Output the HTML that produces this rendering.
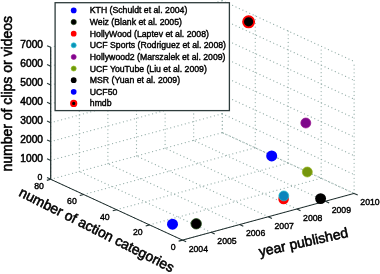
<!DOCTYPE html>
<html><head><meta charset="utf-8"><title>Action recognition datasets</title>
<style>
html,body{margin:0;padding:0;background:#fff;}
body{width:380px;height:274px;overflow:hidden;}
svg{display:block;font-family:"Liberation Sans",Arial,Helvetica,sans-serif;fill:#000;}
text{stroke:#000;stroke-width:0.4px;}
.g{stroke:#95aea9;stroke-width:1.25;stroke-dasharray:0.01 3.76;fill:none;stroke-linecap:round;}
.g2{stroke-dashoffset:-1.3;}
.az{stroke-width:1.25 !important;}
.ax{stroke:#1e2c2c;stroke-width:1.0;fill:none;stroke-linecap:butt;}
.tk{stroke:#233333;stroke-width:1.1;fill:none;}
.zt{font-size:10.2px;text-anchor:end;stroke-width:0.5px;}
.ct{font-size:8.7px;text-anchor:end;}
.yt{font-size:8.7px;text-anchor:start;}
.lb{font-size:14px;stroke-width:0.55px;}
.lg{font-size:8.7px;}
</style></head><body>
<svg width="380" height="274" viewBox="0 0 380 274">
<rect x="0" y="0" width="380" height="274" fill="#fff"/>
<g id="grid">
<line class="g" x1="182.5" y1="240.1" x2="50.7" y2="179.3"/>
<line class="g" x1="211.1" y1="232.32" x2="79.3" y2="171.52"/>
<line class="g" x1="239.7" y1="224.54" x2="107.9" y2="163.74"/>
<line class="g" x1="268.3" y1="216.76" x2="136.5" y2="155.96"/>
<line class="g" x1="296.9" y1="208.98" x2="165.1" y2="148.18"/>
<line class="g" x1="325.5" y1="201.2" x2="193.7" y2="140.4"/>
<line class="g" x1="182.5" y1="240.1" x2="354.1" y2="193.42"/>
<line class="g" x1="149.55" y1="224.9" x2="321.15" y2="178.22"/>
<line class="g" x1="116.6" y1="209.7" x2="288.2" y2="163.02"/>
<line class="g" x1="83.65" y1="194.5" x2="255.25" y2="147.82"/>
<line class="g" x1="50.7" y1="179.3" x2="222.3" y2="132.62"/>
<line class="g" x1="50.7" y1="179.3" x2="50.7" y2="47.35"/>
<line class="g" x1="79.3" y1="171.52" x2="79.3" y2="39.57"/>
<line class="g" x1="107.9" y1="163.74" x2="107.9" y2="31.79"/>
<line class="g" x1="136.5" y1="155.96" x2="136.5" y2="24.01"/>
<line class="g" x1="165.1" y1="148.18" x2="165.1" y2="16.23"/>
<line class="g" x1="193.7" y1="140.4" x2="193.7" y2="8.45"/>
<line class="g" x1="222.3" y1="132.62" x2="222.3" y2="0.67"/>
<line class="g" x1="50.7" y1="160.45" x2="222.3" y2="113.77"/>
<line class="g" x1="50.7" y1="141.6" x2="222.3" y2="94.92"/>
<line class="g" x1="50.7" y1="122.75" x2="222.3" y2="76.07"/>
<line class="g" x1="50.7" y1="103.9" x2="222.3" y2="57.22"/>
<line class="g" x1="50.7" y1="85.05" x2="222.3" y2="38.37"/>
<line class="g" x1="50.7" y1="66.2" x2="222.3" y2="19.52"/>
<line class="g" x1="50.7" y1="47.35" x2="222.3" y2="0.67"/>
<line class="g" x1="354.1" y1="193.42" x2="354.1" y2="61.47"/>
<line class="g" x1="321.15" y1="178.22" x2="321.15" y2="46.27"/>
<line class="g" x1="288.2" y1="163.02" x2="288.2" y2="31.07"/>
<line class="g" x1="255.25" y1="147.82" x2="255.25" y2="15.87"/>
<line class="g" x1="222.3" y1="132.62" x2="222.3" y2="0.67"/>
<line class="g" x1="222.3" y1="132.62" x2="354.1" y2="193.42"/>
<line class="g" x1="222.3" y1="113.77" x2="354.1" y2="174.57"/>
<line class="g" x1="222.3" y1="94.92" x2="354.1" y2="155.72"/>
<line class="g" x1="222.3" y1="76.07" x2="354.1" y2="136.87"/>
<line class="g" x1="222.3" y1="57.22" x2="354.1" y2="118.02"/>
<line class="g" x1="222.3" y1="38.37" x2="354.1" y2="99.17"/>
<line class="g" x1="222.3" y1="19.52" x2="354.1" y2="80.32"/>
<line class="g" x1="222.3" y1="0.67" x2="354.1" y2="61.47"/>
<line class="g g2" x1="222.3" y1="132.62" x2="354.1" y2="193.42"/>
</g>
<g id="axes">
<line class="ax az" x1="50.7" y1="179.3" x2="50.7" y2="47.35"/>
<line class="ax" x1="50.7" y1="179.3" x2="182.5" y2="240.1"/>
<line class="ax" x1="182.5" y1="240.1" x2="354.1" y2="193.42"/>
<line class="tk" x1="50.7" y1="179.3" x2="47.07" y2="177.62"/>
<text class="ct" x="42.4" y="180.1">0</text>
<line class="tk" x1="50.7" y1="160.45" x2="47.07" y2="158.77"/>
<text class="zt" x="43" y="161.55">1000</text>
<line class="tk" x1="50.7" y1="141.6" x2="47.07" y2="139.92"/>
<text class="zt" x="43" y="142.7">2000</text>
<line class="tk" x1="50.7" y1="122.75" x2="47.07" y2="121.07"/>
<text class="zt" x="43" y="123.85">3000</text>
<line class="tk" x1="50.7" y1="103.9" x2="47.07" y2="102.22"/>
<text class="zt" x="43" y="105">4000</text>
<line class="tk" x1="50.7" y1="85.05" x2="47.07" y2="83.37"/>
<text class="zt" x="43" y="86.15">5000</text>
<line class="tk" x1="50.7" y1="66.2" x2="47.07" y2="64.52"/>
<text class="zt" x="43" y="67.3">6000</text>
<line class="tk" x1="50.7" y1="47.35" x2="47.07" y2="45.67"/>
<text class="zt" x="43" y="48.45">7000</text>
<line class="tk" x1="182.5" y1="240.1" x2="178.64" y2="241.15"/>
<text class="ct" x="175.6" y="250">0</text>
<line class="tk" x1="149.55" y1="224.9" x2="145.69" y2="225.95"/>
<text class="ct" x="142.65" y="234.8">20</text>
<line class="tk" x1="116.6" y1="209.7" x2="112.74" y2="210.75"/>
<text class="ct" x="109.7" y="219.6">40</text>
<line class="tk" x1="83.65" y1="194.5" x2="79.79" y2="195.55"/>
<text class="ct" x="76.75" y="204.4">60</text>
<line class="tk" x1="50.7" y1="179.3" x2="46.84" y2="180.35"/>
<text class="ct" x="43.8" y="189.2">80</text>
<line class="tk" x1="182.5" y1="240.1" x2="186.13" y2="241.78"/>
<text class="yt" x="188.7" y="251.9">2004</text>
<line class="tk" x1="211.1" y1="232.32" x2="214.73" y2="234"/>
<text class="yt" x="217.3" y="244.12">2005</text>
<line class="tk" x1="239.7" y1="224.54" x2="243.33" y2="226.22"/>
<text class="yt" x="245.9" y="236.34">2006</text>
<line class="tk" x1="268.3" y1="216.76" x2="271.93" y2="218.44"/>
<text class="yt" x="274.5" y="228.56">2007</text>
<line class="tk" x1="296.9" y1="208.98" x2="300.53" y2="210.66"/>
<text class="yt" x="303.1" y="220.78">2008</text>
<line class="tk" x1="325.5" y1="201.2" x2="329.13" y2="202.88"/>
<text class="yt" x="331.7" y="213">2009</text>
<line class="tk" x1="354.1" y1="193.42" x2="357.73" y2="195.1"/>
<text class="yt" x="360.3" y="205.22">2010</text>
</g>
<text class="lb" transform="translate(12,171.6) rotate(-90)">number of clips or videos</text>
<text class="lb" style="font-size:13.9px" transform="translate(18,195.5) rotate(26.7)">number of action categories</text>
<text class="lb" transform="translate(260,256.6) rotate(-12.5)">year published</text>
<g id="points">
<circle cx="172.5" cy="224.2" r="5.5" fill="#0000ff"/>
<circle cx="196.2" cy="223.8" r="5.25" fill="#000000" stroke="#1c4a10" stroke-width="0.7"/>
<circle cx="283.6" cy="199" r="5.3" fill="#ff0000"/>
<circle cx="283.8" cy="195.9" r="4.95" fill="#0c84bc" stroke="#25bfc8" stroke-width="0.7"/>
<circle cx="305.8" cy="123" r="5" fill="#7e088a" stroke="#9a1490" stroke-width="0.7"/>
<circle cx="307.3" cy="172" r="5" fill="#76960c" stroke="#93b51e" stroke-width="0.7"/>
<circle cx="320.6" cy="198.6" r="5.45" fill="#000000"/>
<circle cx="271.7" cy="155.9" r="5.5" fill="#0000ff"/>
<circle cx="248.6" cy="21.8" r="5.55" fill="#000" stroke="#ff0000" stroke-width="1.85"/>
</g>
<g id="legend">
<rect x="55.1" y="2.7" width="174.3" height="107.9" fill="#fff" stroke="#2e3c3c" stroke-width="1.3"/>
<circle cx="73.7" cy="10.45" r="2.85" fill="#0000ff"/>
<text class="lg" x="89.8" y="13.4">KTH (Schuldt et al. 2004)</text>
<circle cx="73.7" cy="22.07" r="2.7" fill="#000" stroke="#1c4a10" stroke-width="0.5"/>
<text class="lg" x="89.8" y="25.02">Weiz (Blank et al. 2005)</text>
<circle cx="73.7" cy="33.69" r="2.85" fill="#ff0000"/>
<text class="lg" x="89.8" y="36.64">HollyWood (Laptev et al. 2008)</text>
<circle cx="73.7" cy="45.31" r="2.5" fill="#0c92b8" stroke="#2ac6d6" stroke-width="0.7"/>
<text class="lg" x="89.8" y="48.26">UCF Sports (Rodriguez et al. 2008)</text>
<circle cx="73.7" cy="56.93" r="2.5" fill="#80068e" stroke="#a0189a" stroke-width="0.7"/>
<text class="lg" x="89.8" y="59.88">Hollywood2 (Marszalek et al. 2009)</text>
<circle cx="73.7" cy="68.55" r="2.5" fill="#6f9a0a" stroke="#8fba20" stroke-width="0.7"/>
<text class="lg" x="89.8" y="71.5">UCF YouTube (Liu et al. 2009)</text>
<circle cx="73.7" cy="80.17" r="2.85" fill="#000000"/>
<text class="lg" x="89.8" y="83.12">MSR (Yuan et al. 2009)</text>
<circle cx="73.7" cy="91.79" r="2.85" fill="#0000ff"/>
<text class="lg" x="89.8" y="94.74">UCF50</text>
<circle cx="73.7" cy="103.41" r="2.6" fill="#000" stroke="#ff0000" stroke-width="2.0"/>
<text class="lg" x="89.8" y="106.36">hmdb</text>
</g>
</svg></body></html>
